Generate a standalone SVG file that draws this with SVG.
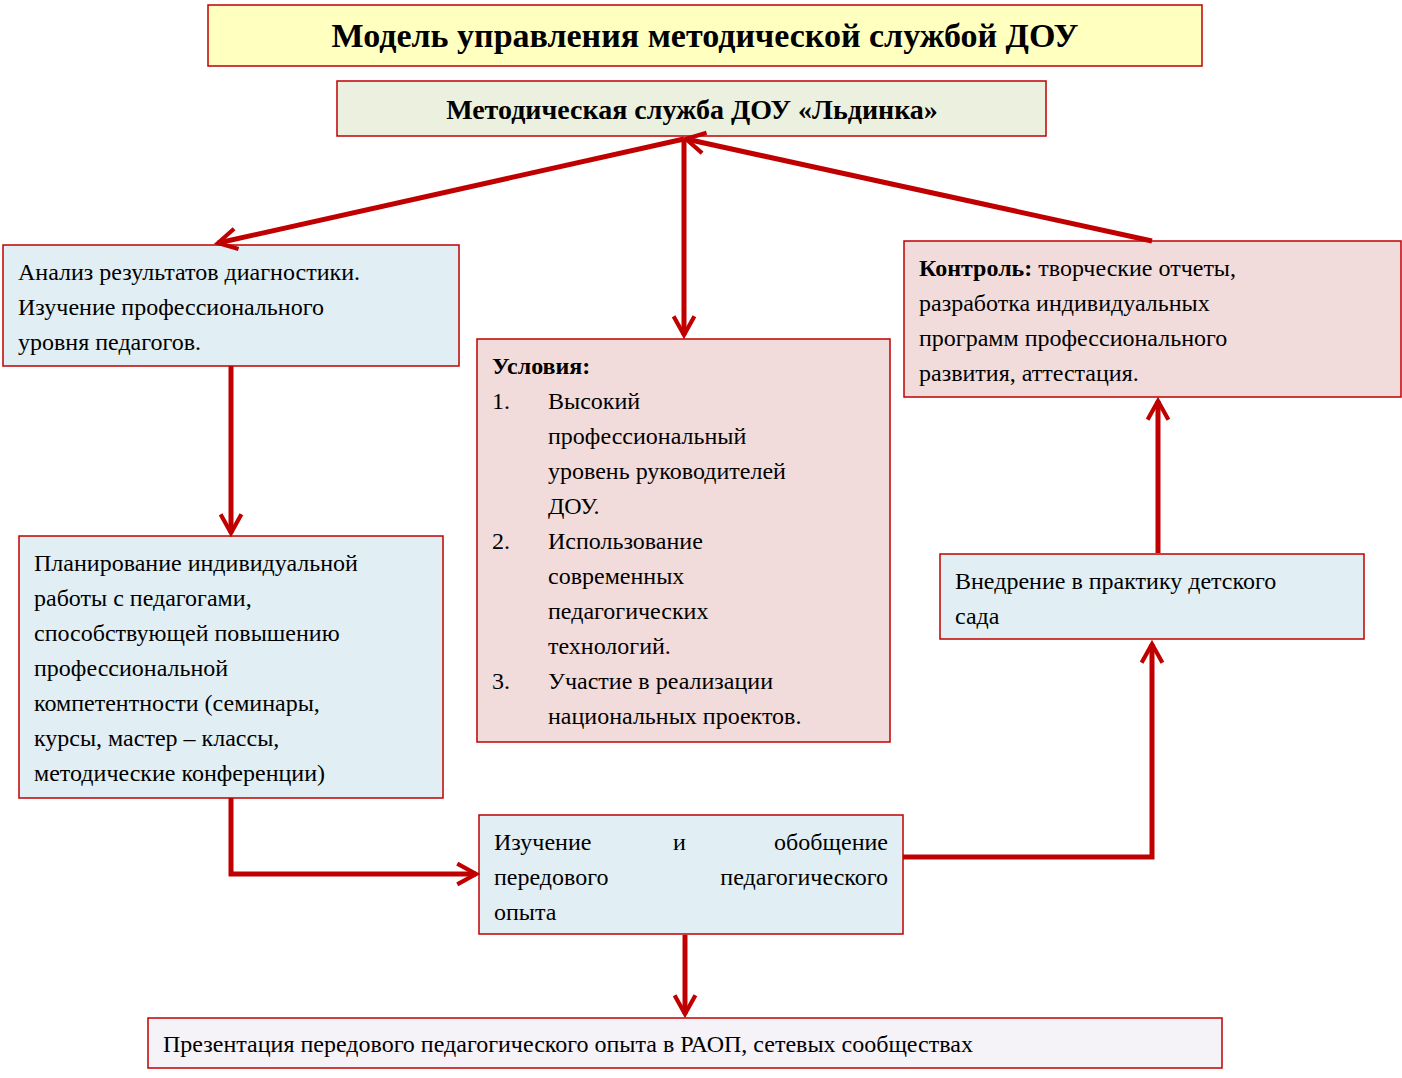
<svg xmlns="http://www.w3.org/2000/svg" width="1402" height="1078" viewBox="0 0 1402 1078">
<style>
.b{stroke:#C00000;stroke-width:1.5}
.blue{fill:#E1EFF4}
.pink{fill:#F2DCDB}
text{font-family:"Liberation Serif","Times New Roman",serif;font-size:24px;fill:#000}
.h{font-weight:bold}
.c{fill:none;stroke:#C00000;stroke-width:5}
</style>
<defs>
<marker id="a" viewBox="0 0 12 12" refX="10" refY="6" markerWidth="5" markerHeight="5" orient="auto" markerUnits="strokeWidth">
<path d="M1,1 L10,6 L1,11" fill="none" stroke="#C00000" stroke-width="2"/>
</marker>
</defs>
<rect width="1402" height="1078" fill="#fff"/>
<g id="title"><rect x="208" y="5" width="994" height="61" fill="#FFFFC0" class="b"/>
<text x="705" y="47" text-anchor="middle" class="h" style="font-size:34px">Модель управления методической службой ДОУ</text></g>
<g id="service"><rect x="337" y="81" width="709" height="55" fill="#EBF1DE" class="b"/>
<text x="692" y="119" text-anchor="middle" class="h" style="font-size:28px">Методическая служба ДОУ  «Льдинка»</text></g>
<g id="analysis"><rect x="3" y="245" width="456" height="121" class="b blue"/>
<text x="18" y="280">Анализ результатов диагностики.</text>
<text x="18" y="315">Изучение профессионального</text>
<text x="18" y="350">уровня педагогов.</text></g>
<g id="conditions"><rect x="477" y="339" width="413" height="403" class="b pink"/>
<text x="492" y="374" class="h">Условия:</text>
<text x="492" y="409">1.</text><text x="548" y="409">Высокий</text>
<text x="548" y="444">профессиональный</text>
<text x="548" y="479">уровень руководителей</text>
<text x="548" y="514">ДОУ.</text>
<text x="492" y="549">2.</text><text x="548" y="549">Использование</text>
<text x="548" y="584">современных</text>
<text x="548" y="619">педагогических</text>
<text x="548" y="654">технологий.</text>
<text x="492" y="689">3.</text><text x="548" y="689">Участие в реализации</text>
<text x="548" y="724">национальных проектов.</text></g>
<g id="control"><rect x="904" y="241" width="497" height="156" class="b pink"/>
<text x="919" y="276"><tspan class="h">Контроль:</tspan> творческие отчеты,</text>
<text x="919" y="311">разработка индивидуальных</text>
<text x="919" y="346">программ профессионального</text>
<text x="919" y="381">развития, аттестация.</text></g>
<g id="planning"><rect x="19" y="536" width="424" height="262" class="b blue"/>
<text x="34" y="571">Планирование индивидуальной</text>
<text x="34" y="606">работы с педагогами,</text>
<text x="34" y="641">способствующей повышению</text>
<text x="34" y="676">профессиональной</text>
<text x="34" y="711">компетентности (семинары,</text>
<text x="34" y="746">курсы, мастер – классы,</text>
<text x="34" y="781">методические конференции)</text></g>
<g id="implement"><rect x="940" y="554" width="424" height="85" class="b blue"/>
<text x="955" y="589">Внедрение в практику детского</text>
<text x="955" y="624">сада</text></g>
<g id="study"><rect x="479" y="815" width="424" height="119" class="b blue"/>
<text x="494" y="850">Изучение</text><text x="673" y="850">и</text><text x="888" y="850" text-anchor="end">обобщение</text>
<text x="494" y="885">передового</text><text x="888" y="885" text-anchor="end">педагогического</text>
<text x="494" y="920">опыта</text></g>
<g id="present"><rect x="148" y="1018" width="1074" height="50" fill="#F5F2F8" class="b"/>
<text x="163" y="1052">Презентация передового педагогического опыта в РАОП, сетевых сообществах</text></g>
<g id="connectors">
<line x1="684" y1="139" x2="218" y2="243" class="c" marker-end="url(#a)"/>
<line x1="684" y1="139" x2="684" y2="335" class="c" marker-end="url(#a)"/>
<line x1="1152" y1="241" x2="686" y2="139" class="c" marker-end="url(#a)"/>
<line x1="231" y1="366" x2="231" y2="533" class="c" marker-end="url(#a)"/>
<polyline points="231,798 231,874 476,874" class="c" marker-end="url(#a)"/>
<polyline points="903,857 1152,857 1152,644" class="c" marker-end="url(#a)"/>
<line x1="1158" y1="553" x2="1158" y2="401" class="c" marker-end="url(#a)"/>
<line x1="685" y1="935" x2="685" y2="1014" class="c" marker-end="url(#a)"/>
</g>
</svg>
